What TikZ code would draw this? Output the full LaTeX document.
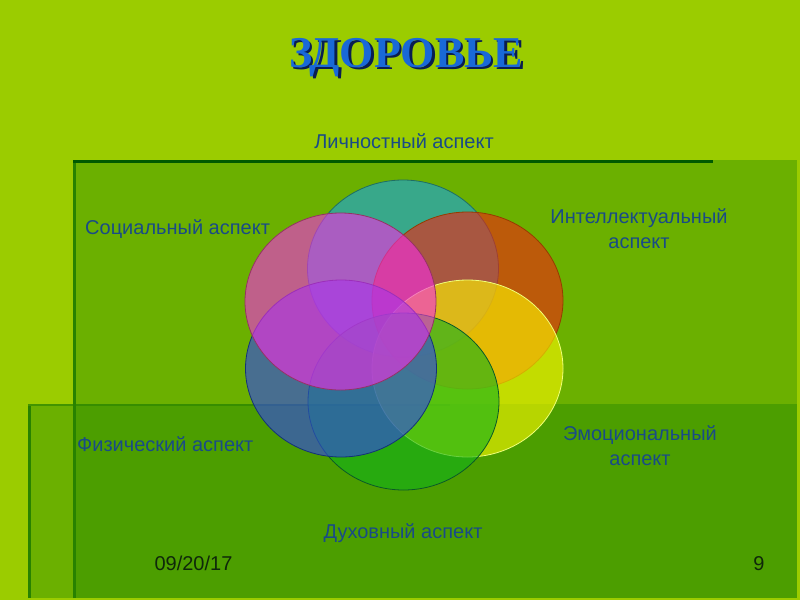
\documentclass[tikz,border=0pt]{standalone}
\usepackage{fontspec}
\setmainfont{Liberation Sans}
\newfontfamily\titlefont{Liberation Serif}
\definecolor{slidebg}{RGB}{155,204,0}
\definecolor{paneldark}{RGB}{20,125,0}
\definecolor{edgegreen}{RGB}{40,130,0}
\definecolor{edgedark}{RGB}{0,90,0}
\definecolor{labelblue}{RGB}{25,75,135}
\definecolor{datetext}{RGB}{15,40,10}
\definecolor{titleblue}{RGB}{25,105,215}
\definecolor{titleshade}{RGB}{10,30,80}
\definecolor{ringteal}{RGB}{23,164,230}
\definecolor{ringtealline}{RGB}{30,110,100}
\definecolor{ringbrown}{RGB}{243,34,17}
\definecolor{ringbrownline}{RGB}{150,60,0}
\definecolor{ringyellow}{RGB}{255,250,0}
\definecolor{ringyellowline}{RGB}{240,255,120}
\definecolor{ringgreen}{RGB}{15,178,25}
\definecolor{ringgreenline}{RGB}{10,90,40}
\definecolor{ringblue}{RGB}{50,67,240}
\definecolor{ringblueline}{RGB}{20,50,120}
\definecolor{ringpink}{RGB}{247,44,230}
\definecolor{ringpinkline}{RGB}{150,50,100}
\begin{document}
\begin{tikzpicture}[x=1pt,y=-1pt,
  panel/.style={fill=paneldark,fill opacity=0.35},
  paneledge/.style={draw=edgegreen,line width=3pt},
  ring/.style={fill opacity=0.6,line width=0.8pt},
  aspect/.style={text=labelblue,font=\fontsize{20}{25}\selectfont,inner sep=0pt},
  heading/.style={font=\titlefont\bfseries\fontsize{44}{44}\selectfont,inner sep=0pt,anchor=base}]
 \fill[slidebg] (0,0) rectangle (800,600);
 \useasboundingbox (0,0) rectangle (800,600);
 \fill[panel] (73,160) rectangle (797,598);
 \fill[panel] (28,404) rectangle (797,598);
 \draw[paneledge] (74.5,598) -- (74.5,161.5);
 \draw[edgedark,line width=2.5pt] (73,161.5) -- (713,161.5);
 \draw[paneledge] (29.5,598) -- (29.5,405.5);
 \draw[edgegreen,line width=2pt,opacity=0.6] (28,405) -- (450,405);
 \filldraw[ring,fill=ringteal,draw=ringtealline] (403,268.5) ellipse [x radius=95.5,y radius=88.5];
 \filldraw[ring,fill=ringbrown,draw=ringbrownline] (467.5,300.5) ellipse [x radius=95.5,y radius=88.5];
 \filldraw[ring,fill=ringyellow,draw=ringyellowline] (467.5,368.5) ellipse [x radius=95.5,y radius=88.5];
 \filldraw[ring,fill=ringgreen,draw=ringgreenline] (403.5,401.5) ellipse [x radius=95.5,y radius=88.5];
 \filldraw[ring,fill=ringblue,draw=ringblueline] (341,368.5) ellipse [x radius=95.5,y radius=88.5];
 \filldraw[ring,fill=ringpink,draw=ringpinkline] (340.5,301.5) ellipse [x radius=95.5,y radius=88.5];
 \node[heading,text=titleshade] (titleshadow) at (408.5,69.5) {ЗДОРОВЬЕ};
 \node[heading,text=titleblue] (title) at (406,67) {ЗДОРОВЬЕ};
 \node[aspect,anchor=base] (lichn) at (404,148) {Личностный аспект};
 \node[aspect,anchor=base west] (soc) at (85,234) {Социальный аспект};
 \node[aspect,align=center] (intel) at (639,229) {Интеллектуальный\\аспект};
 \node[aspect,align=center] (emo) at (640,446) {Эмоциональный\\аспект};
 \node[aspect,anchor=base west] (fiz) at (77,451) {Физический аспект};
 \node[aspect,anchor=base] (duh) at (403,538) {Духовный аспект};
 \node[aspect,anchor=base,text=datetext] (date) at (193.5,570) {09/20/17};
 \node[aspect,anchor=base,text=datetext] (page) at (759,570) {9};
\end{tikzpicture}
\end{document}
